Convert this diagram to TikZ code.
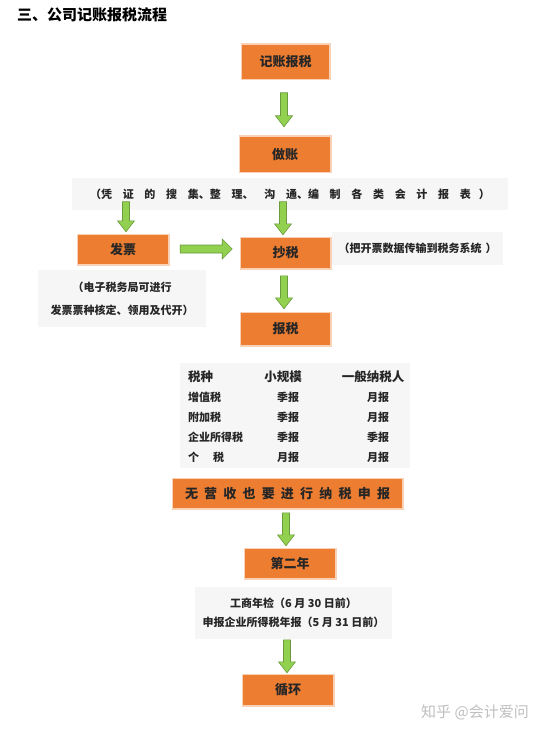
\documentclass[tikz,border=0pt]{standalone}
\usepackage{fontspec}
\usetikzlibrary{calc}
\newfontfamily\cjk{Noto Sans CJK SC}
\definecolor{boxorange}{HTML}{ED7D31}
\definecolor{arrowgreen}{HTML}{92D050}
\definecolor{arrowline}{HTML}{6A9A3C}
\definecolor{bandgrey}{HTML}{F6F6F6}
\newcommand{\kg}[1]{\hspace{#1pt}}
% #1 = top point, #2 = length
\newcommand{\gdown}[2]{\draw[garrow] #1 +(-3.5,0) -- +(-3.5,#2-11) -- +(-8.5,#2-11) -- +(0,#2)
	-- +(8.5,#2-11) -- +(3.5,#2-11) -- +(3.5,0) -- cycle;}
% #1 = left point, #2 = length
\newcommand{\gright}[2]{\draw[garrow] #1 +(0,-4) -- +(#2-10,-4) -- +(#2-10,-10) -- +(#2,0)
	-- +(#2-10,10) -- +(#2-10,4) -- +(0,4) -- cycle;}

\begin{document}
\begin{tikzpicture}[x=1pt,y=-1pt,font=\cjk\bfseries]
	\tikzstyle{box}=[fill=boxorange,inner sep=0pt,text=black!85,
		preaction={draw=boxorange,line width=3pt,opacity=.35},
		font=\cjk\bfseries\fontsize{13pt}{15pt}\selectfont];
	\tikzstyle{band}=[fill=bandgrey,inner sep=0pt];
	\tikzstyle{note}=[font=\cjk\bfseries\fontsize{11pt}{13pt}\selectfont,text=black!85,align=center];
	\tikzstyle{cell}=[font=\cjk\bfseries\fontsize{11pt}{13pt}\selectfont,text=black!85,inner sep=0pt];
	\tikzstyle{garrow}=[fill=arrowgreen,draw=arrowline,line width=.6pt,line join=miter];
	\useasboundingbox[fill=white] (0,0) rectangle (548,735);

	\node[anchor=west,inner sep=0pt,font=\cjk\bfseries\fontsize{15pt}{17pt}\selectfont] (title) at (17,15) {三、公司记账报税流程};

	% boxes
	\node[box,minimum width=87pt,minimum height=34pt] (jz) at (285.5,62) {记账报税};
	\node[box,minimum width=90pt,minimum height=35pt] (zz) at (285,154.5) {做账};
	\node[band,note,minimum width=436pt,minimum height=32pt] (pz) at (290,194)
		{（凭\kg{10.7}证\kg{10.7}的\kg{10.7}搜\kg{10.7}集、整\kg{10.7}理、\kg{10.7}沟\kg{10.7}通、编\kg{10.7}制\kg{10.7}各\kg{10.7}类\kg{10.7}会\kg{10.7}计\kg{10.7}报\kg{10.7}表\kg{8}）};
	\node[box,minimum width=90pt,minimum height=29pt] (fp) at (123,249.5) {发票};
	\node[box,minimum width=89pt,minimum height=30pt] (cs) at (285.5,253) {抄税};
	\node[band,note,minimum width=171pt,minimum height=33pt] (n1) at (417.5,248.5) {（把开票数据传输到税务系统\kg{4}）};
	\node[band,note,minimum width=168pt,minimum height=57pt,font=\cjk\bfseries\fontsize{11pt}{23pt}\selectfont] (n2) at (122,298.5)
		{（电子税务局可进行\\发票票种核定、领用及代开）};
	\node[box,minimum width=89pt,minimum height=32pt] (bs) at (285.5,329) {报税};

	% table
	\node[band,minimum width=230pt,minimum height=105pt] (tb) at (295,415.5) {};
	\node[cell,anchor=west,font=\cjk\bfseries\fontsize{12.5pt}{14pt}\selectfont] (h1) at (188,377) {税种};
	\node[cell,font=\cjk\bfseries\fontsize{12.5pt}{14pt}\selectfont] (h2) at (283,377) {小规模};
	\node[cell,font=\cjk\bfseries\fontsize{12.5pt}{14pt}\selectfont] (h3) at (373,377) {一般纳税人};
	\foreach \y/\a/\b/\c [count=\i] in {397/增值税/季报/月报,417/附加税/季报/月报,437/企业所得税/季报/季报,457/{个\kg{14}税}/月报/月报}{
		\node[cell,anchor=west] (r\i a) at (188,\y) {\a};
		\node[cell] (r\i b) at (288,\y) {\b};
		\node[cell] (r\i c) at (378,\y) {\c};
	}

	\node[box,minimum width=229pt,minimum height=29pt] (wy) at (287.5,493.5)
		{无\kg{6.2}营\kg{6.2}收\kg{6.2}也\kg{6.2}要\kg{6.2}进\kg{6.2}行\kg{6.2}纳\kg{6.2}税\kg{6.2}申\kg{6.2}报};
	\node[box,minimum width=90pt,minimum height=29pt] (de) at (290,563.5) {第二年};
	\node[band,note,minimum width=197pt,minimum height=52pt,font=\cjk\bfseries\fontsize{11pt}{19pt}\selectfont] (ns) at (293.5,613)
		{工商年检（6 月 30 日前）\\申报企业所得税年报（5 月 31 日前）};
	\node[box,minimum width=90pt,minimum height=30pt] (xh) at (288,690) {循环};

	% arrows
	\gdown{($(zz.north)+(-1,-44)$)}{34}
	\gdown{($(fp.north)+(3,-33)$)}{30}
	\gdown{($(cs.north)+(-2.5,-36)$)}{33}
	\gright{($(fp.east)+(12,-0.5)$)}{52}
	\gdown{($(bs.north)+(-1.5,-37)$)}{33}
	\gdown{($(de.north)+(-4,-36)$)}{33}
	\gdown{($(xh.north)+(-1,-35)$)}{33}

	\node[inner sep=0pt,text=black!25,font=\cjk\mdseries\fontsize{15pt}{17pt}\selectfont] (wm) at (475,712) {知乎 @会计爱问};
\end{tikzpicture}
\end{document}
